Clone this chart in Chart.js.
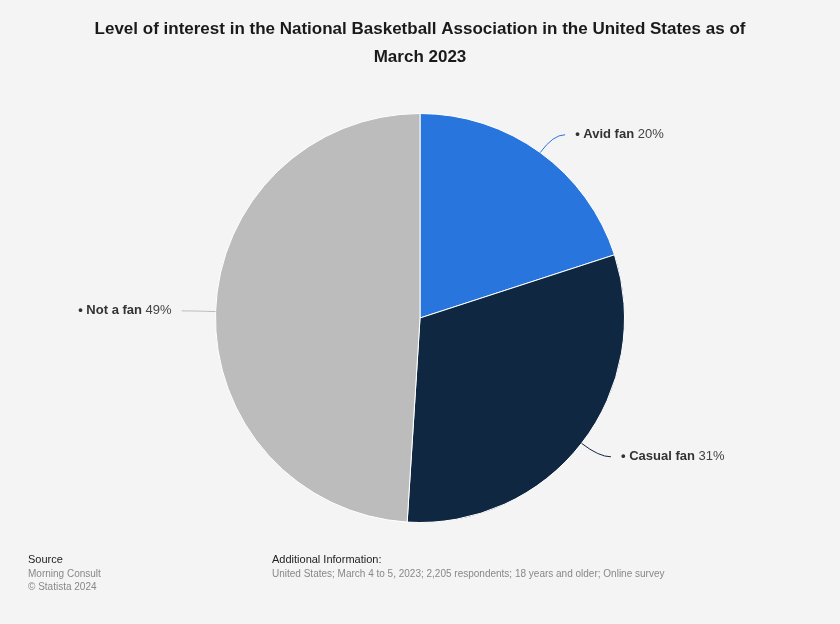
<!DOCTYPE html>
<html>
<head>
<meta charset="utf-8">
<script src="https://cdn.jsdelivr.net/npm/chart.js@4"></script>
<style>
  html, body { margin: 0; padding: 0; background: #f4f4f4; }
  #wrap { position: relative; width: 840px; height: 624px; }
</style>
</head>
<body>
<div id="wrap"><canvas id="chart" width="840" height="624"></canvas></div>
<script>
// Data
const categories = ['Avid fan', 'Casual fan', 'Not a fan'];
const shares = [20, 31, 49];
const colours = ['#2876dd', '#0f2741', '#bcbcbc'];

const FONT = 'Liberation Sans, Arial, sans-serif';

// Draws title, outside labels with leader lines, and the footer
const decorations = {
  id: 'decorations',
  afterDraw(chart) {
    const ctx = chart.ctx;
    ctx.save();
    ctx.fillStyle = '#1a1a1a';
    ctx.font = 'bold 17px ' + FONT;
    ctx.textAlign = 'center';
    ctx.textBaseline = 'middle';
    ctx.fillText('Level of interest in the National Basketball Association in the United States as of', 420, 29);
    ctx.fillText('March 2023', 420, 57);

    const meta = chart.getDatasetMeta(0);
    meta.data.forEach((arc, i) => {
      const mid = (arc.startAngle + arc.endAngle) / 2;
      const cx = arc.x, cy = arc.y, r = arc.outerRadius;
      const x0 = cx + Math.cos(mid) * r, y0 = cy + Math.sin(mid) * r;
      const x1 = cx + Math.cos(mid) * (r + 22), y1 = cy + Math.sin(mid) * (r + 22);
      const right = Math.cos(mid) >= 0;
      const x2 = x1 + (right ? 12 : -12);
      ctx.strokeStyle = colours[i] === '#bcbcbc' ? '#bcbcbc' : colours[i];
      ctx.lineWidth = 1;
      ctx.beginPath();
      ctx.moveTo(x0, y0);
      ctx.quadraticCurveTo(x1, y1, x2, y1);
      ctx.stroke();

      const name = '• ' + categories[i] + ' ';
      const pct = shares[i] + '%';
      ctx.textBaseline = 'middle';
      ctx.font = 'bold 13px ' + FONT;
      const w1 = ctx.measureText(name).width;
      ctx.font = '13px ' + FONT;
      const w2 = ctx.measureText(pct).width;
      const sx = right ? x2 + 10 : x2 - 10 - w1 - w2;
      ctx.textAlign = 'left';
      ctx.font = 'bold 13px ' + FONT;
      ctx.fillStyle = '#333';
      ctx.fillText(name, sx, y1);
      ctx.font = '13px ' + FONT;
      ctx.fillStyle = '#444';
      ctx.fillText(pct, sx + w1, y1);
    });

    ctx.textAlign = 'left';
    ctx.textBaseline = 'alphabetic';
    ctx.fillStyle = '#222';
    ctx.font = '11px ' + FONT;
    ctx.fillText('Source', 28, 563);
    ctx.fillText('Additional Information:', 272, 563);
    ctx.fillStyle = '#888';
    ctx.font = '10px ' + FONT;
    ctx.fillText('Morning Consult', 28, 577);
    ctx.fillText('© Statista 2024', 28, 590);
    ctx.fillText('United States; March 4 to 5, 2023; 2,205 respondents; 18 years and older; Online survey', 272, 577);
    ctx.restore();
  }
};

new Chart(document.getElementById('chart'), {
  type: 'pie',
  data: {
    labels: categories,
    datasets: [{
      data: shares,
      backgroundColor: colours,
      borderColor: '#ffffff',
      borderWidth: 1
    }]
  },
  options: {
    responsive: false,
    animation: false,
    layout: { padding: { top: 113, bottom: 101, left: 0, right: 0 } },
    plugins: {
      legend: { display: false },
      tooltip: { enabled: false }
    }
  },
  plugins: [decorations]
});
</script>
</body>
</html>
